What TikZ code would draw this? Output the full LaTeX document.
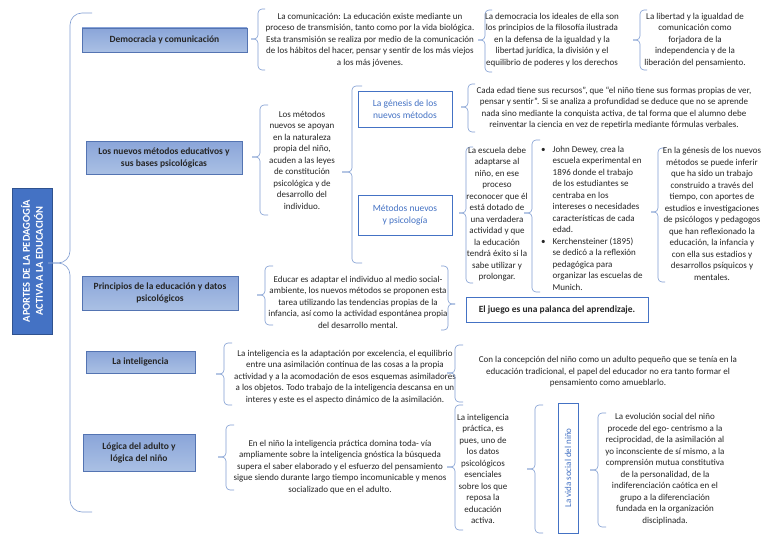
\documentclass[tikz,border=0pt]{standalone}
\usepackage{fontspec}
\setmainfont{Carlito}
\usetikzlibrary{positioning}

\definecolor{titleblue}{RGB}{68,114,196}
\definecolor{titleedge}{RGB}{47,82,143}
\definecolor{cattop}{RGB}{138,165,217}
\definecolor{catbot}{RGB}{170,192,228}
\definecolor{catedge}{RGB}{84,116,178}
\definecolor{bracecol}{RGB}{128,158,210}
\definecolor{subblue}{RGB}{68,114,196}

% llave: [opts] x, top, bottom, tip, hook
\newcommand{\llave}[6][]{%
  \draw[llave,#1] ({#2+#6},#3) -- (#2,#3) -- (#2,#5) -- ({#2-#6},#5);
  \draw[llave,#1] ({#2+#6},#4) -- (#2,#4) -- (#2,#5) -- ({#2-#6},#5);
}

\begin{document}
\begin{tikzpicture}[x=1pt,y=-1pt]
  \tikzstyle{llave}=[draw=bracecol,line width=0.6pt,rounded corners=4pt]
  \tikzstyle{titulo}=[rotate=90,fill=titleblue,draw=titleedge,text=white,align=center,
    font=\bfseries\fontsize{10.5}{13}\selectfont,minimum width=146pt,minimum height=40pt,inner sep=0pt]
  \tikzstyle{cat}=[draw=catedge,top color=cattop,bottom color=catbot,text=black!85,align=center,
    font=\bfseries\fontsize{9.5}{12}\selectfont,inner sep=0pt]
  \tikzstyle{note}=[align=center,text=black!85,font=\fontsize{9}{11.5}\selectfont,inner sep=0pt]
  \tikzstyle{sub}=[draw=subblue,fill=white,text=subblue,line width=0.8pt,align=center,
    font=\fontsize{9.5}{12}\selectfont,inner sep=0pt]

  \fill[white] (0,0) rectangle (768,543);
  \useasboundingbox (0,0) rectangle (768,543);

  \begin{scope}
    % title and main brace
    \node [titulo] (titulo) at (32,261) {APORTES DE LA PEDAGOGÍA\\ACTIVA A LA EDUCACIÓN};
    \llave[rounded corners=12pt]{70}{13}{512}{263}{22}

    % categories
    \node [cat,minimum width=165pt,minimum height=24pt] (democ) at (164.5,40) {Democracia y comunicación};
    \node [cat,minimum width=156pt,minimum height=33pt] (metodos) at (164,157.5) {Los nuevos métodos educativos y\\sus bases psicológicas};
    \node [cat,minimum width=156pt,minimum height=34pt] (princ) at (160,293) {Principios de la educación y datos\\psicológicos};
    \node [cat,minimum width=109pt,minimum height=22pt] (intel) at (140.5,362) {La inteligencia};
    \node [cat,minimum width=112pt,minimum height=37pt] (logica) at (139,452.5) {Lógica del adulto y\\lógica del niño};
  \end{scope}

  \begin{scope}
    % Democracia y comunicación
    \llave{258}{9}{70}{39}{7}
    \node [note] (comunic) at (370,40) {La comunicación: La educación existe mediante un\\proceso de transmisión, tanto como por la vida biológica.\\Esta transmisión se realiza por medio de la comunicación\\de los hábitos del hacer, pensar y sentir de los más viejos\\a los más jóvenes.};
    \llave{485}{10}{72}{40}{7}
    \node [note] (democracia) at (552,40) {La democracia los ideales de ella son\\los principios de la filosofía ilustrada\\en la defensa de la igualdad y la\\libertad jurídica, la división y el\\equilibrio de poderes y los derechos};
    \llave{640}{10}{70}{40}{7}
    \node [note] (libertad) at (695,40) {La libertad y la igualdad de\\comunicación como\\forjadora de la\\independencia y de la\\liberación del pensamiento.};
  \end{scope}

  \begin{scope}
    % Los nuevos métodos
    \llave{260}{105}{215}{157}{8}
    \node [note] (apoyan) at (302,160) {Los métodos\\nuevos se apoyan\\en la naturaleza\\propia del niño,\\acuden a las leyes\\de constitución\\psicológica y de\\desarrollo del\\individuo.};
    \llave{352}{86}{263}{172}{10}
    \node [sub,minimum width=94pt,minimum height=36pt] (genesis) at (405,109) {La génesis de los\\nuevos métodos};
    \node [sub,minimum width=94pt,minimum height=40pt] (psico) at (405,215) {Métodos nuevos\\y psicología};
    \llave{468}{84}{132}{107}{7}
    \node [note] (edad) at (614,108) {Cada edad tiene sus recursos”, que “el niño tiene sus formas propias de ver,\\pensar y sentir”. Si se analiza a profundidad se deduce que no se aprende\\nada sino mediante la conquista activa, de tal forma que el alumno debe\\reinventar la ciencia en vez de repetirla mediante fórmulas verbales.};
    \llave{466}{147}{283}{213}{7}
    \node [note] (escuela) at (497,214) {La escuela debe\\adaptarse al\\niño, en ese\\proceso\\reconocer que él\\está dotado de\\una verdadera\\actividad y que\\la educación\\tendrá éxito si la\\sabe utilizar y\\prolongar.};
    \llave{532}{140}{292}{213}{8}
    \node [note,align=left,anchor=west] (dewey) at (541,219) {\begin{tabular}{@{}l@{\hspace{7pt}}l@{}}
      • & John Dewey, crea la\\ & escuela experimental en\\ & 1896 donde el trabajo\\ & de los estudiantes se\\
        & centraba en los\\ & intereses o necesidades\\ & características de cada\\ & edad.\\
      • & Kerchensteiner (1895)\\ & se dedicó a la reflexión\\ & pedagógica para\\ & organizar las escuelas de\\ & Munich.
    \end{tabular}};
    \llave{658}{148}{282}{212}{7}
    \node [note] (inferir) at (712,214) {En la génesis de los nuevos\\métodos se puede inferir\\que ha sido un trabajo\\construido a través del\\tiempo, con aportes de\\estudios e investigaciones\\de psicólogos y pedagogos\\que han reflexionado la\\educación, la infancia y\\con ella sus estadios y\\desarrollos psíquicos y\\mentales.};
  \end{scope}

  \begin{scope}
    % Principios
    \llave{265}{266}{325}{295}{8}
    \node [note] (educar) at (358,302) {Educar es adaptar el individuo al medio social-\\ambiente, los nuevos métodos se proponen esta\\tarea utilizando las tendencias propias de la\\infancia, así como la actividad espontánea propia\\del desarrollo mental.};
    \llave{448}{266}{330}{304}{-7}
    \node [sub,text=black!85,font=\bfseries\fontsize{9.5}{12}\selectfont,minimum width=182pt,minimum height=25pt] (juego) at (557,309.5) {El juego es una palanca del aprendizaje.};
  \end{scope}

  \begin{scope}
    % La inteligencia
    \llave{224}{343}{405}{374}{8}
    \node [note] (adapta) at (345,377) {La inteligencia es la adaptación por excelencia, el equilibrio\\entre una asimilación continua de las cosas a la propia\\actividad y a la acomodación de esos esquemas asimiladores\\a los objetos. Todo trabajo de la inteligencia descansa en un\\interes y este es el aspecto dinámico de la asimilación.};
    \llave{455}{345}{402}{373}{8}
    \node [note] (tradic) at (608,372) {Con la concepción del niño como un adulto pequeño que se tenía en la\\educación tradicional, el papel del educador no era tanto formar el\\pensamiento como amueblarlo.};
  \end{scope}

  \begin{scope}
    % Lógica del adulto
    \llave{226}{425}{490}{457}{8}
    \node [note] (practica) at (340,467) {En el niño la inteligencia práctica domina toda- vía\\ampliamente sobre la inteligencia gnóstica la búsqueda\\supera el saber elaborado y el esfuerzo del pensamiento\\sigue siendo durante largo tiempo incomunicable y menos\\socializado que en el adulto.};
    \llave{455}{405}{530}{467}{8}
    \node [note] (datos) at (483,469) {La inteligencia\\práctica, es\\pues, uno de\\los datos\\psicológicos\\esenciales\\sobre los que\\reposa la\\educación\\activa.};
    \llave{535}{405}{533}{469}{8}
    \node [sub,rotate=90,font=\fontsize{9}{11}\selectfont,minimum width=130pt,minimum height=20pt] (vida) at (568,468) {La vida social del niño};
    \llave{598}{413}{527}{470}{8}
    \node [note] (evol) at (665,469) {La evolución social del niño\\procede del ego- centrismo a la\\reciprocidad, de la asimilación al\\yo inconsciente de sí mismo, a la\\comprensión mutua constitutiva\\de la personalidad, de la\\indiferenciación caótica en el\\grupo a la diferenciación\\fundada en la organización\\disciplinada.};
  \end{scope}
\end{tikzpicture}
\end{document}
